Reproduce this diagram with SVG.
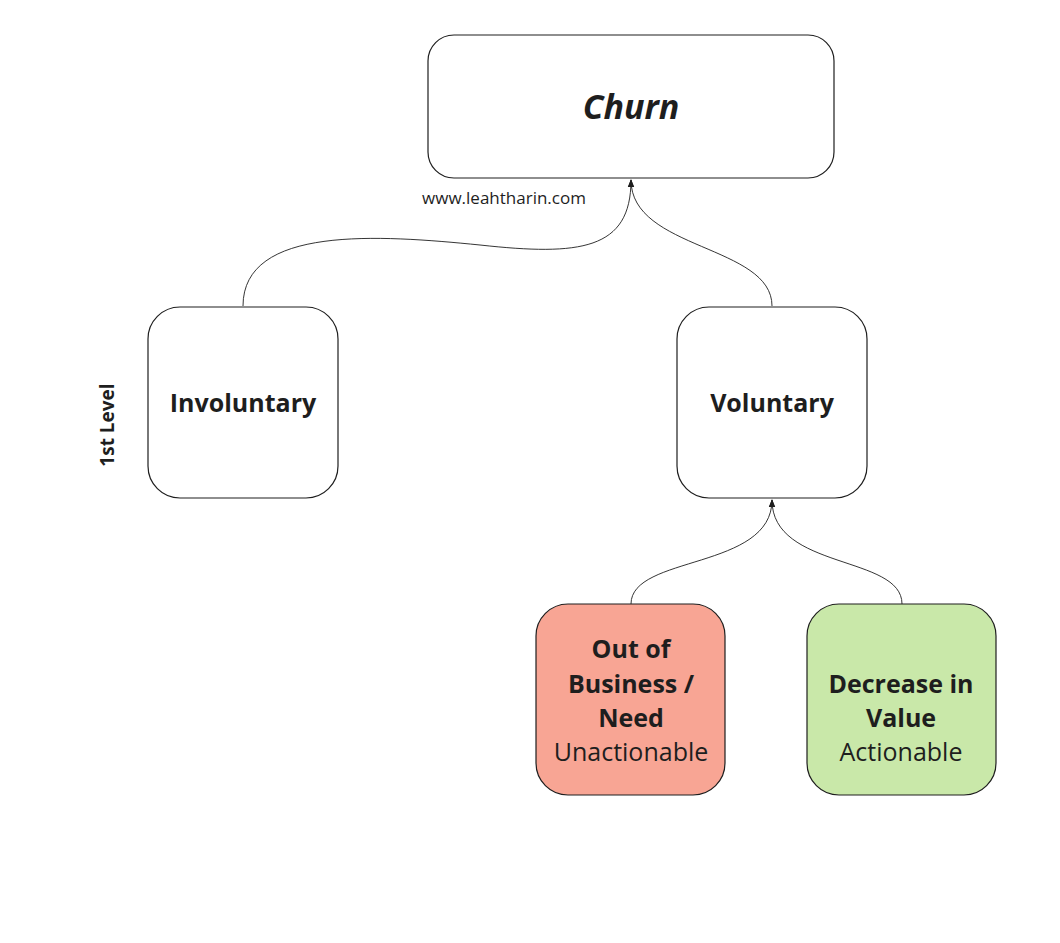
<svg xmlns="http://www.w3.org/2000/svg" width="1060" height="943" viewBox="0 0 1060 943">
<style>
.box{stroke:#1e1e1e;stroke-width:1.2}
text{font-family:"Open Sans","Noto Sans",sans-serif;fill:#1e1e1e;text-anchor:middle}
.b{font-weight:bold;font-size:25px}
.r{font-size:25px}
.c{fill:none;stroke:#1e1e1e;stroke-width:0.9}
</style>
<defs><marker id="a" viewBox="0 0 10 10" refX="9" refY="5" markerWidth="9" markerHeight="9" orient="auto"><path d="M0,1 L10,5 L0,9 z" fill="#1e1e1e"/></marker></defs>
<rect width="1060" height="943" fill="#fff"/>
<g id="connectors">
<path class="c" d="M243,306 C243,225 380,235 480,245 C580,256 631,250 631,180" marker-end="url(#a)"/>
<path class="c" d="M772,306 C772,245 631,250 631,180" marker-end="url(#a)"/>
<path class="c" d="M631,604 C631,555 772,570 772,500" marker-end="url(#a)"/>
<path class="c" d="M902,604 C902,555 772,570 772,500" marker-end="url(#a)"/>
</g>
<g id="churn"><rect class="box" x="428" y="35" width="406" height="143" rx="26" fill="#fff"/><text x="631" y="119" font-size="34" font-weight="bold" font-style="italic">Churn</text></g>
<g id="url"><text x="504" y="204" font-size="17" fill="#444">www.leahtharin.com</text></g>
<g id="involuntary"><rect class="box" x="148" y="307" width="190" height="191" rx="32" fill="#fff"/><text class="b" x="243" y="412">Involuntary</text></g>
<g id="level"><text class="b" style="font-size:19px" transform="translate(114,425) rotate(-90)">1st Level</text></g>
<g id="voluntary"><rect class="box" x="677" y="307" width="190" height="191" rx="32" fill="#fff"/><text class="b" x="772" y="412">Voluntary</text></g>
<g id="outofbusiness"><rect class="box" x="536" y="604" width="189" height="191" rx="32" fill="#f8a594"/><text class="b" x="631" y="658">Out of</text><text class="b" x="631" y="693">Business /</text><text class="b" x="631" y="727">Need</text><text class="r" x="631" y="761">Unactionable</text></g>
<g id="decrease"><rect class="box" x="807" y="604" width="189" height="191" rx="32" fill="#c9e8a9"/><text class="b" x="901" y="693">Decrease in</text><text class="b" x="901" y="727">Value</text><text class="r" x="901" y="761">Actionable</text></g>
</svg>
